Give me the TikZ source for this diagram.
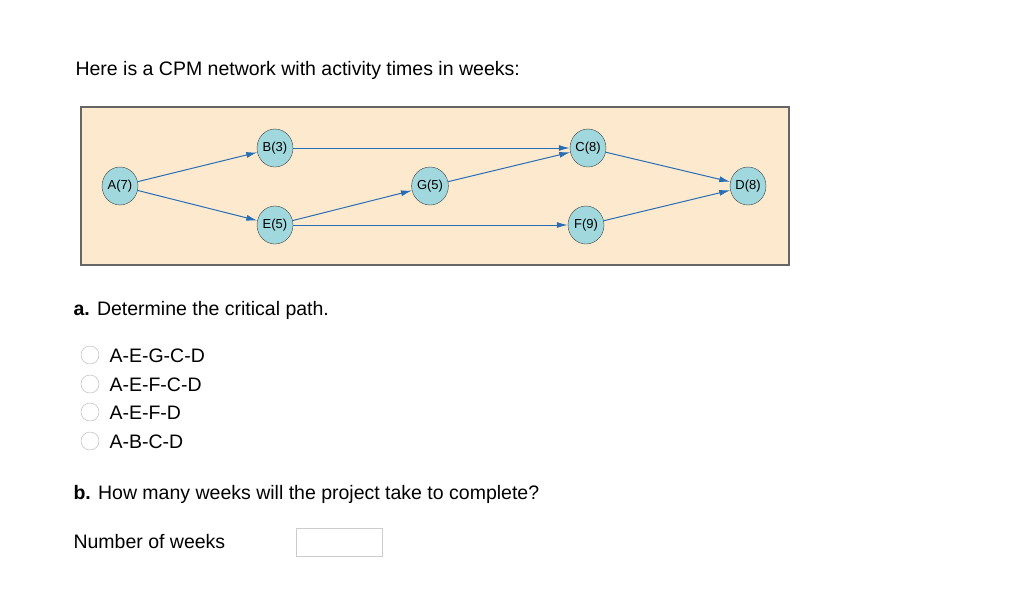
\documentclass[tikz,border=0pt]{standalone}
\usepackage{fontspec}
\setmainfont{Liberation Sans}
\usetikzlibrary{shapes.geometric,arrows.meta}
\begin{document}
\begin{tikzpicture}[x=1pt,y=-1pt,
  act/.style={ellipse,draw=gray!50!black,fill={rgb,255:red,160;green,216;blue,222},minimum width=36pt,minimum height=38pt,inner sep=0pt,font=\fontsize{13}{13}\selectfont},
  arr/.style={-{Latex[length=11pt,width=6pt]},draw={rgb,255:red,40;green,110;blue,180},line width=1pt},
  txt/.style={anchor=west,font=\fontsize{19.5}{20}\selectfont},
  radio/.style={circle,draw=gray!60,minimum size=18pt,inner sep=0pt}]
\useasboundingbox (0,0) rectangle (1024,603);
\node[txt] (title) at (72,70) {Here is a CPM network with activity times in weeks:};
\node[draw=gray!80!black,line width=1.5pt,fill={rgb,255:red,253;green,233;blue,206},minimum width=708pt,minimum height=158pt,anchor=north west] (bg) at (80,106) {};
\node[act] (A) at (120,186) {A(7)};
\node[act] (B) at (275,148) {B(3)};
\node[act] (E) at (275,225) {E(5)};
\node[act] (G) at (430,186) {G(5)};
\node[act] (C) at (588,148) {C(8)};
\node[act] (F) at (586,225) {F(9)};
\node[act] (D) at (748,186) {D(8)};
\draw[arr] (A) -- (B);
\draw[arr] (A) -- (E);
\draw[arr] (B) -- (C);
\draw[arr] (E) -- (G);
\draw[arr] (E) -- (F);
\draw[arr] (G) -- (C);
\draw[arr] (C) -- (D);
\draw[arr] (F) -- (D);
\node[txt] (qa) at (70,310) {\textbf{a.} Determine the critical path.};
\node[radio] (r1) at (90,355) {};
\node[radio] (r2) at (90,384) {};
\node[radio] (r3) at (90,412) {};
\node[radio] (r4) at (90,441) {};
\node[txt] (o1) at (106,356) {A-E-G-C-D};
\node[txt] (o2) at (106,385) {A-E-F-C-D};
\node[txt] (o3) at (106,413) {A-E-F-D};
\node[txt] (o4) at (106,442) {A-B-C-D};
\node[txt] (qb) at (70,494) {\textbf{b.} How many weeks will the project take to complete?};
\node[txt] (nw) at (70,542) {Number of weeks};
\node[draw=gray!40,minimum width=86pt,minimum height=28pt,anchor=north west] (box) at (296,528) {};
\end{tikzpicture}
\end{document}
